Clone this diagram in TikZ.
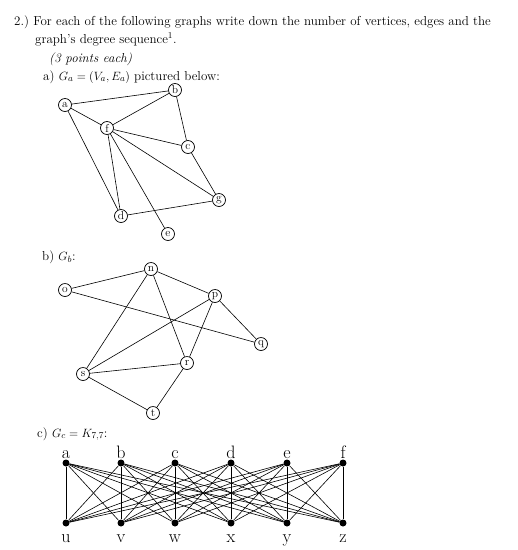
\documentclass[tikz,border=0pt]{standalone}
\usepackage{amsmath}
\begin{document}
\begin{tikzpicture}[x=1pt,y=-1pt,
  vtx/.style={circle,draw,line width=0.7pt,inner sep=0pt,minimum size=13pt,font=\fontsize{11.5}{11.5}\selectfont},
  edg/.style={line width=0.6pt},
  dot/.style={circle,fill,inner sep=0pt,minimum size=7pt},
  klab/.style={font=\fontsize{18}{18}\selectfont},
  txt/.style={anchor=base west,inner sep=0pt,font=\fontsize{13}{14}\selectfont}]
\useasboundingbox (0,0) rectangle (518,550);
% header text
\node[txt] (h1) at (14,25) {2.)\ For each of the following graphs write down the number of vertices, edges and the};
\node[txt] (h2) at (35,43) {graph's degree sequence$^1$.};
\node[txt] (h3) at (49,62) {\itshape (3 points each)};
\node[txt] (h4) at (43,80) {a)\ $G_a=(V_a,E_a)$ pictured below:};
% graph a
\node[vtx] (a) at (65,105) {a};
\node[vtx] (b) at (175,90) {b};
\node[vtx] (f) at (107,128) {f};
\node[vtx] (c) at (188,147) {c};
\node[vtx] (g) at (219,200) {g};
\node[vtx] (d) at (121,216) {d};
\node[vtx] (e) at (168,234) {e};
\foreach \u/\v in {a/b,a/f,a/d,b/f,b/c,f/c,f/g,f/d,f/e,c/g,d/g}
  \draw[edg] (\u) -- (\v);
% graph b
\node[txt] (hb) at (42,260) {b)\ $G_b$:};
\node[vtx] (n) at (151,269) {n};
\node[vtx] (o) at (65,290) {o};
\node[vtx] (p) at (215,296) {p};
\node[vtx] (q) at (261,344) {q};
\node[vtx] (r) at (187,363) {r};
\node[vtx] (s) at (83,374) {s};
\node[vtx] (t) at (153,413) {t};
\foreach \u/\v in {o/n,o/q,n/p,n/s,n/r,p/s,p/r,p/q,s/r,s/t,r/t}
  \draw[edg] (\u) -- (\v);
% graph c
\node[txt] (hc) at (37,437) {c)\ $G_c=K_{7,7}$:};
\foreach \nm/\x in {a/66,b/121,c/175,d/231,e/287,f/343}{
  \node[dot] (T\nm) at (\x,463) {};
  \node[klab,anchor=base] (LT\nm) at (\x,458) {\nm};
}
\foreach \nm/\x in {u/66,v/121,w/175,x/231,y/287,z/343}{
  \node[dot] (B\nm) at (\x,523) {};
  \node[klab,anchor=base] (LB\nm) at (\x,542) {\nm};
}
\foreach \t in {a,b,c,d,e,f}
  \foreach \bb in {u,v,w,x,y,z}
    \draw[edg] (T\t) -- (B\bb);
\end{tikzpicture}
\end{document}
